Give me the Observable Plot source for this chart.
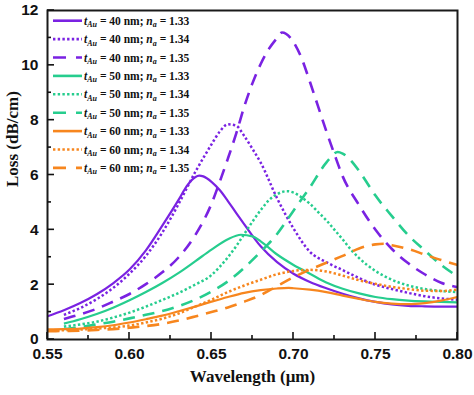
<!DOCTYPE html>
<html><head><meta charset="utf-8">
<script src="https://cdn.jsdelivr.net/npm/d3@7"></script>
<script src="https://cdn.jsdelivr.net/npm/@observablehq/plot@0.6"></script>
<style>body{margin:0;background:#fff;} #chart svg{display:block;}</style>
</head><body><div id="chart"></div>
<script>
// ---- data ----
const thicknessLabels = ["40", "50", "60"];
const indexLabels = ["1.33", "1.34", "1.35"];

const wl_40_133 = [0.55,0.56,0.57,0.58,0.59,0.60,0.61,0.62,0.63,0.635,0.64,0.6425,0.645,0.65,0.655,0.66,0.665,0.67,0.68,0.69,0.70,0.71,0.72,0.73,0.74,0.75,0.76,0.77,0.78,0.79,0.80];
const loss_40_133 = [0.85,1.07,1.33,1.65,2.05,2.55,3.25,4.15,5.1,5.6,5.92,5.98,5.95,5.75,5.45,5.05,4.62,4.2,3.4,2.82,2.4,2.1,1.87,1.67,1.5,1.37,1.28,1.23,1.21,1.2,1.2];

const wl_40_134 = [0.56,0.57,0.58,0.59,0.60,0.61,0.62,0.63,0.64,0.645,0.65,0.655,0.66,0.665,0.67,0.675,0.68,0.69,0.70,0.71,0.72,0.73,0.74,0.75,0.76,0.77,0.78,0.79,0.80];
const loss_40_134 = [0.9,1.15,1.47,1.88,2.4,3.05,3.9,4.95,6.1,6.62,7.12,7.58,7.85,7.8,7.42,6.95,6.45,5.15,4.05,3.2,2.82,2.53,2.24,2.0,1.84,1.7,1.58,1.5,1.45];

const wl_40_135 = [0.56,0.57,0.58,0.59,0.60,0.61,0.62,0.63,0.64,0.65,0.655,0.66,0.665,0.67,0.675,0.68,0.685,0.69,0.693,0.70,0.705,0.71,0.715,0.72,0.725,0.73,0.74,0.75,0.76,0.77,0.78,0.79,0.80];
const loss_40_135 = [0.75,0.92,1.12,1.38,1.66,2.02,2.45,3.0,3.8,4.95,5.75,6.6,7.5,8.5,9.35,10.05,10.6,11.0,11.2,10.85,10.25,9.4,8.5,7.6,6.75,5.95,4.9,4.0,3.3,2.78,2.38,2.07,1.91];

const wl_50_133 = [0.56,0.57,0.58,0.59,0.60,0.61,0.62,0.63,0.64,0.65,0.66,0.668,0.675,0.68,0.69,0.70,0.71,0.72,0.73,0.74,0.75,0.76,0.77,0.78,0.79,0.80];
const loss_50_133 = [0.58,0.74,0.93,1.16,1.43,1.73,2.06,2.43,2.85,3.28,3.66,3.82,3.76,3.58,3.1,2.72,2.4,2.08,1.85,1.68,1.55,1.47,1.42,1.39,1.37,1.35];

const wl_50_134 = [0.56,0.57,0.58,0.59,0.60,0.61,0.62,0.63,0.64,0.65,0.655,0.66,0.665,0.67,0.675,0.68,0.685,0.69,0.696,0.70,0.705,0.71,0.715,0.72,0.725,0.73,0.735,0.74,0.75,0.76,0.77,0.78,0.79,0.80];
const loss_50_134 = [0.47,0.55,0.65,0.8,0.98,1.2,1.44,1.7,2.0,2.35,2.65,3.0,3.4,3.85,4.3,4.72,5.08,5.3,5.41,5.36,5.18,4.95,4.65,4.35,4.0,3.65,3.28,2.97,2.5,2.18,1.97,1.84,1.77,1.73];

const wl_50_135 = [0.56,0.57,0.58,0.59,0.60,0.61,0.62,0.63,0.64,0.65,0.66,0.67,0.68,0.69,0.70,0.71,0.72,0.727,0.73,0.74,0.745,0.75,0.76,0.77,0.78,0.79,0.80];
const loss_50_135 = [0.38,0.45,0.55,0.65,0.77,0.9,1.04,1.22,1.45,1.75,2.12,2.62,3.2,3.85,4.7,5.55,6.45,6.84,6.78,6.15,5.7,5.25,4.5,3.8,3.25,2.72,2.3];

const wl_60_133 = [0.55,0.56,0.57,0.58,0.59,0.60,0.61,0.62,0.63,0.64,0.65,0.66,0.67,0.68,0.69,0.697,0.70,0.71,0.72,0.73,0.74,0.75,0.76,0.77,0.78,0.79,0.80];
const loss_60_133 = [0.37,0.38,0.4,0.45,0.52,0.62,0.74,0.87,1.03,1.2,1.38,1.55,1.7,1.8,1.86,1.88,1.87,1.82,1.73,1.6,1.48,1.37,1.31,1.29,1.33,1.42,1.55];

const wl_60_134 = [0.55,0.56,0.57,0.58,0.59,0.60,0.61,0.62,0.63,0.64,0.65,0.66,0.67,0.68,0.69,0.70,0.71,0.72,0.73,0.74,0.75,0.76,0.77,0.78,0.79,0.80];
const loss_60_134 = [0.33,0.34,0.36,0.4,0.44,0.51,0.62,0.76,0.95,1.2,1.45,1.73,1.97,2.18,2.38,2.5,2.54,2.48,2.33,2.16,2.03,1.92,1.84,1.78,1.77,1.82];

const wl_60_135 = [0.55,0.56,0.57,0.58,0.59,0.60,0.61,0.62,0.63,0.64,0.65,0.66,0.67,0.68,0.69,0.70,0.71,0.72,0.73,0.74,0.75,0.755,0.76,0.77,0.78,0.79,0.80];
const loss_60_135 = [0.3,0.31,0.32,0.35,0.38,0.43,0.49,0.57,0.69,0.84,1.0,1.17,1.38,1.62,1.95,2.27,2.55,2.8,3.05,3.32,3.47,3.49,3.44,3.3,3.1,2.9,2.72];

const xTicksMajor = [0.55, 0.60, 0.65, 0.70, 0.75, 0.80];
const xTicksMinor = [0.575, 0.625, 0.675, 0.725, 0.775];
const yTicksMajor = [0, 2, 4, 6, 8, 10, 12];
const yTicksMinor = [1, 3, 5, 7, 9, 11];

// ---- styles ----
const colorByThickness = {"40": "#7a22e2", "50": "#26cd8e", "60": "#f7861e"};
const dashByIndex = {"1.33": null, "1.34": "2.4,2.3", "1.35": "12,8"};
const widthByIndex = {"1.33": 2.2, "1.34": 2.5, "1.35": 2.6};
const legendDash = {"1.33": null, "1.34": "2.4,2.3", "1.35": "13,10"};

const seriesList = [
  ["40","1.33",wl_40_133,loss_40_133],["40","1.34",wl_40_134,loss_40_134],["40","1.35",wl_40_135,loss_40_135],
  ["50","1.33",wl_50_133,loss_50_133],["50","1.34",wl_50_134,loss_50_134],["50","1.35",wl_50_135,loss_50_135],
  ["60","1.33",wl_60_133,loss_60_133],["60","1.34",wl_60_134,loss_60_134],["60","1.35",wl_60_135,loss_60_135]
].map(([t, n, wl, loss]) => ({t, n, rows: wl.map((w, i) => ({wavelength: w, loss: loss[i]}))}));

const W = 474, H = 395;
const mL = 47, mR = 17, mT = 10, mB = 56;
const tickFont = "'Liberation Sans', Arial, sans-serif";
const serif = "'Liberation Serif', 'Times New Roman', serif";

const lineMarks = seriesList.map(s => Plot.line(s.rows, {
  x: "wavelength", y: "loss", curve: "monotone-x",
  stroke: colorByThickness[s.t], strokeWidth: widthByIndex[s.n],
  strokeDasharray: dashByIndex[s.n], strokeLinecap: "butt", clip: true
}));

const chart = Plot.plot({
  width: W, height: H,
  marginLeft: mL, marginRight: mR, marginTop: mT, marginBottom: mB,
  x: {domain: [0.55, 0.80]},
  y: {domain: [0, 12]},
  style: {background: "#fff", color: "#111"},
  marks: [
    ...lineMarks,
    Plot.axisX(xTicksMajor, {tickSize: 0, tickPadding: 8, tickFormat: d3.format(".2f"), label: null,
      fontSize: 15.5, fontWeight: "bold", fontFamily: tickFont, fill: "#111"}),
    Plot.axisY(yTicksMajor, {tickSize: 0, tickPadding: 9, label: null,
      fontSize: 15.5, fontWeight: "bold", fontFamily: tickFont, fill: "#111"}),
    Plot.frame({stroke: "#1a1a1a", strokeWidth: 2}),
    Plot.text(["Wavelength (μm)"], {frameAnchor: "bottom", dy: 42, text: d => d,
      fontSize: 17, fontWeight: "bold", fontFamily: serif, fill: "#111"}),
    Plot.text(["Loss (dB/cm)"], {frameAnchor: "left", dx: -35, dy: 12, rotate: -90, text: d => d,
      fontSize: 17, fontWeight: "bold", fontFamily: serif, fill: "#111"})
  ]
});

document.getElementById("chart").appendChild(chart);

// ---- inward ticks, placed with the chart's own scales ----
const sx = chart.scale("x"), sy = chart.scale("y");
const svg = d3.select(chart);
const yBottom = H - mB, xLeft = mL;
const tg = svg.append("g").attr("stroke", "#111").attr("stroke-width", 1.6);
xTicksMajor.forEach(v => tg.append("line").attr("x1", sx.apply(v)).attr("x2", sx.apply(v)).attr("y1", yBottom).attr("y2", yBottom - 7));
xTicksMinor.forEach(v => tg.append("line").attr("x1", sx.apply(v)).attr("x2", sx.apply(v)).attr("y1", yBottom).attr("y2", yBottom - 4));
yTicksMajor.forEach(v => tg.append("line").attr("y1", sy.apply(v)).attr("y2", sy.apply(v)).attr("x1", xLeft).attr("x2", xLeft + 7));
yTicksMinor.forEach(v => tg.append("line").attr("y1", sy.apply(v)).attr("y2", sy.apply(v)).attr("x1", xLeft).attr("x2", xLeft + 4));

// ---- legend inside the plot, upper left ----
const lg = svg.append("g").attr("font-family", serif).attr("font-weight", "bold")
  .attr("fill", "#111").attr("text-anchor", "start");
seriesList.forEach((s, i) => {
  const cy = 20.7 + i * 18.4;
  lg.append("line").attr("x1", 53).attr("x2", 82).attr("y1", cy).attr("y2", cy)
    .attr("stroke", colorByThickness[s.t]).attr("stroke-width", 2.6)
    .attr("stroke-dasharray", legendDash[s.n]);
  const tx = lg.append("text").attr("x", 84).attr("y", cy + 4).attr("font-size", 11.5)
    .attr("text-anchor", "start");
  tx.append("tspan").attr("font-style", "italic").text("t");
  tx.append("tspan").attr("font-style", "italic").attr("font-size", 8).attr("dy", 2.5).text("Au");
  tx.append("tspan").attr("dy", -2.5).text(" = " + s.t + " nm; ");
  tx.append("tspan").attr("font-style", "italic").text("n");
  tx.append("tspan").attr("font-style", "italic").attr("font-size", 8).attr("dy", 2.5).text("a");
  tx.append("tspan").attr("dy", -2.5).text(" = " + s.n);
});
</script>
</body></html>
